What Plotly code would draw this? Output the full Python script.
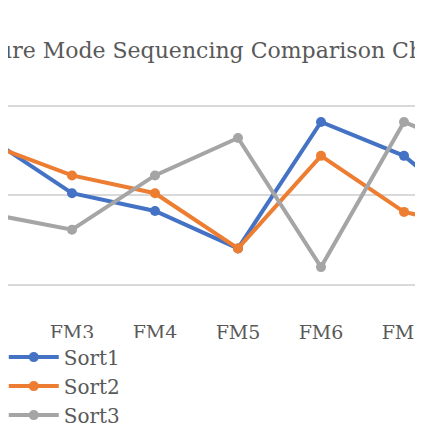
import plotly.graph_objects as go

categories = ["FM2", "FM3", "FM4", "FM5", "FM6", "FM7", "FM8"]
sort1 = [1.64, 1.02, 0.82, 0.40, 1.82, 1.44, 0.67]
sort2 = [1.57, 1.22, 1.02, 0.40, 1.44, 0.81, 0.60]
sort3 = [0.79, 0.61, 1.22, 1.64, 0.19, 1.82, 1.44]

colors = ["#4472C4", "#ED7D31", "#A5A5A5"]
xs = list(range(len(categories)))

fig = go.Figure()
for name, vals, c in [("Sort1", sort1, colors[0]), ("Sort2", sort2, colors[1]), ("Sort3", sort3, colors[2])]:
    fig.add_trace(go.Scatter(x=xs, y=vals, mode="lines+markers", name=name,
                             line=dict(color=c, width=4), marker=dict(color=c, size=10)))

fig.update_layout(
    width=423, height=423,
    margin=dict(l=0, r=0, t=0, b=147, autoexpand=False),
    plot_bgcolor="white", paper_bgcolor="white",
    font=dict(family="DejaVu Serif", color="#595959", size=19),
    showlegend=True,
    legend=dict(orientation="h", x=-0.01, y=-0.37, yanchor="middle", xanchor="left",
                entrywidth=150, itemwidth=50, font=dict(size=20)),
    annotations=[dict(text="Failure Mode Sequencing Comparison Chart", xref="paper", yref="paper",
                      x=0.47, y=(276 - 42) / 276, xanchor="center", yanchor="middle",
                      showarrow=False, font=dict(size=22, color="#595959"))],
)
fig.update_xaxes(range=[0.229, 5.325], tickvals=xs, ticktext=categories, showgrid=False,
                 showline=True, linecolor="#d9d9d9", linewidth=1.5,
                 ticks="outside", ticklen=30, tickcolor="white")
fig.update_yaxes(range=[0, 276 / 89], tickvals=[0, 1, 2], showticklabels=False, gridcolor="#d9d9d9",
                 gridwidth=1.5, zeroline=False)

fig.write_html("out.html")
